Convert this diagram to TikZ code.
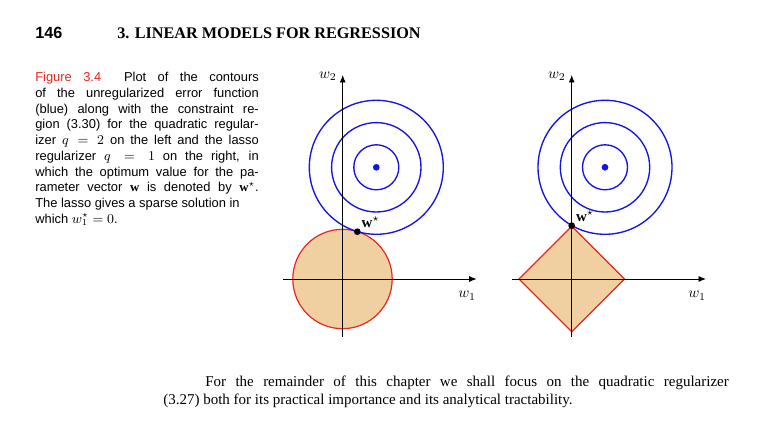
\documentclass[tikz,border=0pt]{standalone}
\usepackage{fontspec}
\setmainfont{Liberation Serif}
\newfontfamily\capfont{Liberation Sans}
\usepackage{amsmath}
\usetikzlibrary{arrows.meta}
\definecolor{regfill}{RGB}{240,208,160}
\definecolor{regline}{RGB}{230,40,30}
\definecolor{errblue}{RGB}{20,20,230}
\definecolor{figred}{RGB}{230,40,30}
\tikzset{
    axis/.style={-{Latex[length=5pt,width=4pt]}, line width=0.6pt},
    contour/.style={errblue, line width=0.9pt},
    region/.style={fill=regfill, draw=regline, line width=0.8pt},
    dot/.style={circle, fill, inner sep=0pt, minimum size=4.5pt},
}
\begin{document}
\begin{tikzpicture}[x=0.6667pt, y=-0.6667pt]
    \useasboundingbox (0,0) rectangle (783,421);
    % running head
    \node[anchor=base west, inner sep=0] (page) at (35,39) {\capfont\fontsize{10.8}{13}\selectfont\bfseries 146};
    \node[anchor=base west, inner sep=0] (head) at (117,39) {\fontsize{10.8}{13}\selectfont\bfseries 3. LINEAR MODELS FOR REGRESSION};
    % caption
    \node[anchor=north west, inner sep=0, text width=149pt, align=justify,
        font=\capfont\fontsize{8.6}{10.5}\selectfont] (cap) at (35,72) {%
        {\color{figred}Figure 3.4}\ \ Plot of the contours\linebreak
        of the unregularized error function\linebreak
        (blue) along with the constraint re-\linebreak
        gion (3.30) for the quadratic regular-\linebreak
        izer $q=2$ on the left and the lasso\linebreak
        regularizer $q=1$ on the right, in\linebreak
        which the optimum value for the pa-\linebreak
        rameter vector $\mathbf{w}$ is denoted by $\mathbf{w}^{\star}$.\linebreak
        The lasso gives a sparse solution in\newline
        which $w_1^{\star}=0$.};
    % left: quadratic regularizer
    \fill[region] (342.5,279) circle (49.7);
    \foreach \r in {22.5,44.7,67} {
        \draw[contour] (376.3,167.3) circle (\r);
    }
    \node[dot, errblue] (cL) at (376.3,167.3) {};
    \draw[axis] (283,279) -- (476.7,279) coordinate (xL);
    \draw[axis] (342.7,336.7) -- (342.7,75) coordinate (yL);
    \node[anchor=north] at (467,286) {$w_1$};
    \node[anchor=east] at (342,76) {$w_2$};
    \node[dot] (wL) at (357.3,231.7) {};
    \node[anchor=south west, inner sep=1pt] at (wL.north east) {$\mathbf{w}^{\star}$};
    % right: lasso regularizer
    \fill[region] (571.7,226.3) -- (624.4,279) -- (571.7,331.7) -- (519,279) -- cycle;
    \foreach \r in {22.5,44.7,67} {
        \draw[contour] (605,167.3) circle (\r);
    }
    \node[dot, errblue] (cR) at (605,167.3) {};
    \draw[axis] (511.7,279) -- (706,279) coordinate (xR);
    \draw[axis] (571.7,336.7) -- (571.7,75) coordinate (yR);
    \node[anchor=north] at (697,286) {$w_1$};
    \node[anchor=east] at (571,76) {$w_2$};
    \node[dot] (wR) at (571.7,225.7) {};
    \node[anchor=south west, inner sep=1pt] at (wR.north east) {$\mathbf{w}^{\star}$};
    % body text
    \node[anchor=north west, inner sep=0, text width=377pt, align=justify] (body) at (163,376) {%
        \hspace*{28pt}For the remainder of this chapter we shall focus on the quadratic regularizer\linebreak
        (3.27) both for its practical importance and its analytical tractability.};
\end{tikzpicture}
\end{document}
